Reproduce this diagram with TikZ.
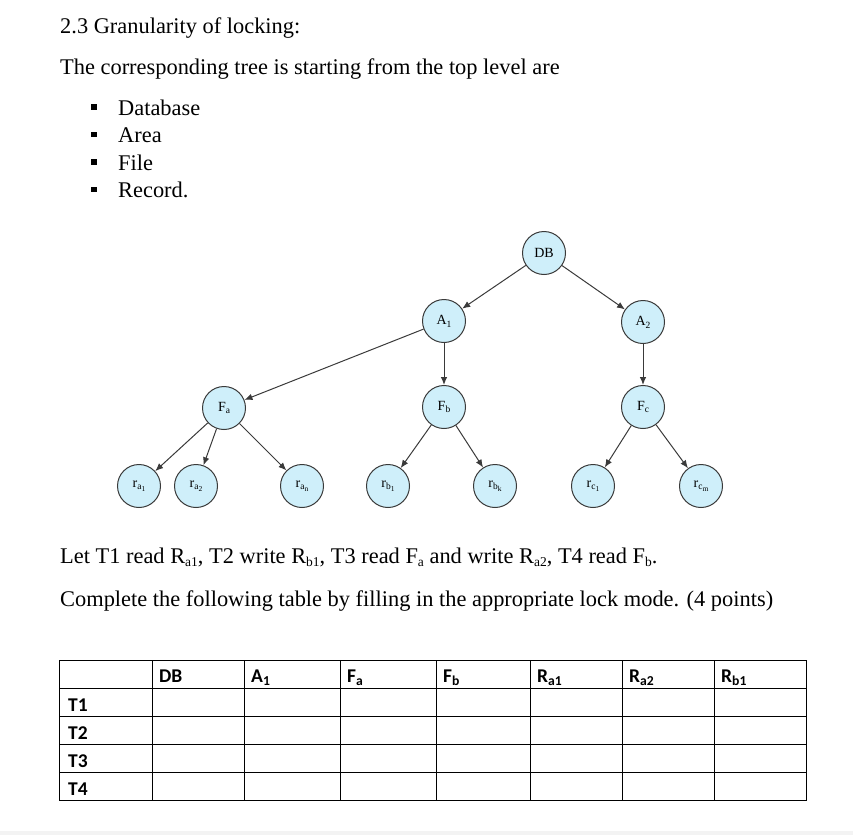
\documentclass[tikz,border=0pt]{standalone}
\usepackage{fontspec}
\setmainfont{Liberation Serif}
\newfontfamily\calibri{Carlito}
\usetikzlibrary{arrows.meta}
\definecolor{treefill}{HTML}{CFEFFA}
\definecolor{edgecol}{HTML}{3A3A3A}
\definecolor{bandgray}{HTML}{F3F3F3}
\newcommand\lsub[1]{\raisebox{-2.8pt}{\fontsize{9.5}{10}\selectfont #1}}
\newcommand\llsub[1]{\raisebox{-1.8pt}{\fontsize{7.5}{8}\selectfont #1}}
\newcommand\bsub[1]{\raisebox{-3pt}{\fontsize{13.5}{14}\selectfont #1}}
\begin{document}
\begin{tikzpicture}[x=1pt,y=-1pt,
  tn/.style={circle,draw=edgecol,fill=treefill,minimum size=43pt,inner sep=0pt,font=\fontsize{14}{15}\selectfont,line width=1pt},
  ed/.style={draw=edgecol,line width=1pt,-{Latex[length=8pt,width=6.5pt]}},
  body/.style={anchor=base west,inner sep=0pt,font=\fontsize{22.4}{24}\selectfont},
  bul/.style={fill=black,minimum size=5.5pt,inner sep=0pt},
  th/.style={anchor=base west,inner sep=0pt,font=\calibri\bfseries\fontsize{19.5}{21}\selectfont},
  grid/.style={draw=black,line width=0.9pt}]
\useasboundingbox (0,0) rectangle (853,835);
\fill[bandgray] (0,830.5) rectangle (853,835);

% header text
\node[body] (t1) at (60,33) {2.3 Granularity of locking:};
\node[body] (t2) at (60,74) {The corresponding tree is starting from the top level are};
\foreach \y/\txt [count=\i] in {115/Database,142.5/Area,170/File,197.5/Record.}{
  \node[bul] (b\i) at (94,\y-8) {};
  \node[body] (l\i) at (118,\y) {\txt};
}

% tree
\node[tn] (DB) at (544,253) {DB};
\node[tn] (A1) at (444,321) {A\lsub{1}};
\node[tn] (A2) at (643,322) {A\lsub{2}};
\node[tn] (Fa) at (224,408) {F\lsub{a}};
\node[tn] (Fb) at (444,407) {F\lsub{b}};
\node[tn] (Fc) at (643,407) {F\lsub{c}};
\node[tn] (ra1) at (139,486) {r\lsub{a\llsub{1}}};
\node[tn] (ra2) at (196,486) {r\lsub{a\llsub{2}}};
\node[tn] (ran) at (302,486) {r\lsub{a\llsub{n}}};
\node[tn] (rb1) at (388,486) {r\lsub{b\llsub{1}}};
\node[tn] (rbk) at (495,486) {r\lsub{b\llsub{k}}};
\node[tn] (rc1) at (593,486) {r\lsub{c\llsub{1}}};
\node[tn] (rcm) at (701,486) {r\lsub{c\llsub{m}}};
\draw[ed] (DB) -- (A1);
\draw[ed] (DB) -- (A2);
\draw[ed] (A1) -- (Fa);
\draw[ed] (A1) -- (Fb);
\draw[ed] (A2) -- (Fc);
\draw[ed] (Fa) -- (ra1);
\draw[ed] (Fa) -- (ra2);
\draw[ed] (Fa) -- (ran);
\draw[ed] (Fb) -- (rb1);
\draw[ed] (Fb) -- (rbk);
\draw[ed] (Fc) -- (rc1);
\draw[ed] (Fc) -- (rcm);

% question text
\node[body] (q1) at (60,563) {Let T1 read R\bsub{a1}, T2 write R\bsub{b1}, T3 read F\bsub{a} and write R\bsub{a2}, T4 read F\bsub{b}.};
\node[body] (q2) at (60,606) {Complete the following table by filling in the appropriate lock mode. (4 points)};

% table
\draw[grid] (59,660) rectangle (806,800);
\foreach \yy in {688,716,744,772} \draw[grid] (59,\yy) -- (806,\yy);
\foreach \xx in {152,244,340,436,530,622,714} \draw[grid] (\xx,660) -- (\xx,800);
\node[th] (hDB) at (159,682) {DB};
\node[th] (hA1) at (251,682) {A\textsubscript{1}};
\node[th] (hFa) at (347,682) {F\textsubscript{a}};
\node[th] (hFb) at (443,682) {F\textsubscript{b}};
\node[th] (hRa1) at (537,682) {R\textsubscript{a1}};
\node[th] (hRa2) at (629,682) {R\textsubscript{a2}};
\node[th] (hRb1) at (721,682) {R\textsubscript{b1}};
\foreach \yy/\tt in {711.5/T1,739.5/T2,767.5/T3,795.5/T4}
  \node[th] (r\tt) at (68,\yy) {\tt};
\end{tikzpicture}
\end{document}
